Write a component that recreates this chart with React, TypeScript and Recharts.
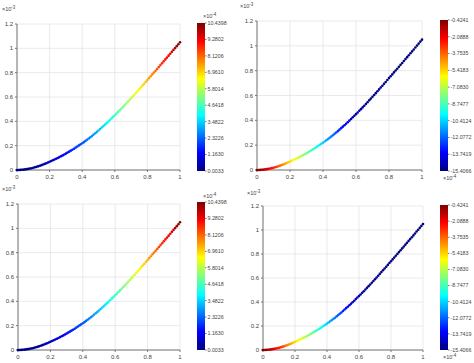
import React from 'react';
import { ScatterChart, Scatter, XAxis, YAxis, CartesianGrid, ReferenceArea } from 'recharts';

const X_TICKS = [0, 0.2, 0.4, 0.6, 0.8, 1];
const Y_TICKS = [0, 0.2, 0.4, 0.6, 0.8, 1, 1.2];

// x positions of the sampled points
const XS = [
  0, 0.01, 0.02, 0.03, 0.04, 0.05, 0.06, 0.07, 0.08, 0.09,
  0.1, 0.11, 0.12, 0.13, 0.14, 0.15, 0.16, 0.17, 0.18, 0.19,
  0.2, 0.21, 0.22, 0.23, 0.24, 0.25, 0.26, 0.27, 0.28, 0.29,
  0.3, 0.31, 0.32, 0.33, 0.34, 0.35, 0.36, 0.37, 0.38, 0.39,
  0.4, 0.41, 0.42, 0.43, 0.44, 0.45, 0.46, 0.47, 0.48, 0.49,
  0.5, 0.51, 0.52, 0.53, 0.54, 0.55, 0.56, 0.57, 0.58, 0.59,
  0.6, 0.61, 0.62, 0.63, 0.64, 0.65, 0.66, 0.67, 0.68, 0.69,
  0.7, 0.71, 0.72, 0.73, 0.74, 0.75, 0.76, 0.77, 0.78, 0.79,
  0.8, 0.81, 0.82, 0.83, 0.84, 0.85, 0.86, 0.87, 0.88, 0.89,
  0.9, 0.91, 0.92, 0.93, 0.94, 0.95, 0.96, 0.97, 0.98, 0.99,
  1,
];

// deflection values (x10^-3)
const YS = [
  0, 0.0003, 0.001, 0.002, 0.003, 0.005, 0.007, 0.009, 0.012, 0.015,
  0.018, 0.022, 0.026, 0.03, 0.035, 0.04, 0.045, 0.05, 0.056, 0.062,
  0.068, 0.074, 0.08, 0.086, 0.093, 0.099, 0.106, 0.113, 0.12, 0.127,
  0.135, 0.143, 0.151, 0.159, 0.167, 0.175, 0.184, 0.193, 0.202, 0.211,
  0.22, 0.229, 0.239, 0.249, 0.259, 0.269, 0.28, 0.291, 0.302, 0.313,
  0.325, 0.337, 0.349, 0.361, 0.373, 0.385, 0.398, 0.411, 0.424, 0.437,
  0.45, 0.463, 0.477, 0.49, 0.504, 0.518, 0.532, 0.546, 0.561, 0.575,
  0.59, 0.604, 0.619, 0.634, 0.649, 0.664, 0.679, 0.694, 0.709, 0.725,
  0.74, 0.755, 0.77, 0.786, 0.801, 0.816, 0.831, 0.847, 0.862, 0.878,
  0.893, 0.909, 0.924, 0.94, 0.955, 0.971, 0.987, 1.002, 1.018, 1.034,
  1.05,
];

// colour values of the left panels (x10^-4)
const C_LEFT = [
  0.0033, 0.005, 0.01, 0.02, 0.03, 0.05, 0.07, 0.09, 0.12, 0.15,
  0.18, 0.22, 0.26, 0.3, 0.35, 0.4, 0.45, 0.5, 0.56, 0.62,
  0.68, 0.74, 0.8, 0.86, 0.92, 0.98, 1.05, 1.12, 1.19, 1.26,
  1.34, 1.42, 1.5, 1.58, 1.66, 1.74, 1.83, 1.92, 2.01, 2.1,
  2.19, 2.28, 2.38, 2.48, 2.57, 2.67, 2.78, 2.89, 3.0, 3.11,
  3.23, 3.35, 3.47, 3.59, 3.71, 3.83, 3.96, 4.09, 4.21, 4.34,
  4.47, 4.6, 4.74, 4.87, 5.01, 5.15, 5.29, 5.43, 5.58, 5.72,
  5.87, 6.01, 6.15, 6.3, 6.45, 6.6, 6.75, 6.9, 7.05, 7.21,
  7.36, 7.5, 7.65, 7.81, 7.96, 8.11, 8.26, 8.42, 8.57, 8.73,
  8.88, 9.04, 9.19, 9.34, 9.49, 9.65, 9.81, 9.96, 10.12, 10.28,
  10.4398,
];

// colour values of the right panels (x10^-4)
const C_RIGHT = [
  -0.4241, -0.6, -0.8, -1.0, -1.2, -1.45, -1.7, -1.95, -2.2, -2.45,
  -2.7, -2.95, -3.2, -3.5, -3.8, -4.1, -4.4, -4.65, -4.9, -5.2,
  -5.5, -5.75, -6.0, -6.25, -6.5, -6.75, -7.0, -7.25, -7.5, -7.75,
  -8.0, -8.25, -8.5, -8.75, -9.0, -9.25, -9.5, -9.75, -10.0, -10.25,
  -10.5, -10.75, -11.0, -11.25, -11.5, -11.75, -12.0, -12.25, -12.5, -12.75,
  -13.0, -13.25, -13.5, -13.7, -13.9, -14.1, -14.3, -14.45, -14.6, -14.7,
  -14.8, -14.9, -15.0, -15.05, -15.1, -15.15, -15.2, -15.22, -15.25, -15.28,
  -15.3, -15.31, -15.32, -15.33, -15.34, -15.35, -15.36, -15.36, -15.37, -15.37,
  -15.38, -15.38, -15.39, -15.39, -15.39, -15.39, -15.4, -15.4, -15.4, -15.4,
  -15.4, -15.4, -15.4, -15.4, -15.4, -15.4, -15.41, -15.41, -15.41, -15.41,
  -15.4066,
];

const CB_TICKS_LEFT = [0.0033, 1.163, 2.3226, 3.4822, 4.6418, 5.8014, 6.961, 8.1206, 9.2802, 10.4398];
const CB_TICKS_RIGHT = [-15.4066, -13.7419, -12.0772, -10.4124, -8.7477, -7.083, -5.4183, -3.7535, -2.0888, -0.4241];

const W = 474;
const H = 363;
const FONT = '"Liberation Sans", Arial, sans-serif';
const TXT = '#444';

const clamp = (v: number) => Math.max(0, Math.min(1, v));
const jet = (t: number) => {
  const r = clamp(1.5 - Math.abs(4 * t - 3));
  const g = clamp(1.5 - Math.abs(4 * t - 2));
  const b = clamp(1.5 - Math.abs(4 * t - 1));
  return `rgb(${Math.round(r * 255)},${Math.round(g * 255)},${Math.round(b * 255)})`;
};

type Box = { l: number; t: number; r: number; b: number };
type Panel = {
  id: string;
  plot: Box;
  cbar: Box;
  colors: number[];
  cbTicks: number[];
  yExp: { x: number; y: number };
  cExp: { x: number; y: number };
};

const PANELS: Panel[] = [
  { id: 'tl', plot: { l: 17, t: 24, r: 180, b: 170 }, cbar: { l: 197, t: 23, r: 205, b: 171 }, colors: C_LEFT, cbTicks: CB_TICKS_LEFT, yExp: { x: 2, y: 6 }, cExp: { x: 203, y: 13 } },
  { id: 'tr', plot: { l: 257, t: 21, r: 422, b: 170 }, cbar: { l: 440, t: 20, r: 448, b: 171 }, colors: C_RIGHT, cbTicks: CB_TICKS_RIGHT, yExp: { x: 240, y: 3 }, cExp: { x: 443, y: 175 } },
  { id: 'bl', plot: { l: 18, t: 204, r: 180, b: 350 }, cbar: { l: 197, t: 202, r: 205, b: 350 }, colors: C_LEFT, cbTicks: CB_TICKS_LEFT, yExp: { x: 2, y: 186 }, cExp: { x: 203, y: 193 } },
  { id: 'br', plot: { l: 263, t: 206, r: 423, b: 350 }, cbar: { l: 440, t: 205, r: 448, b: 350 }, colors: C_RIGHT, cbTicks: CB_TICKS_RIGHT, yExp: { x: 247, y: 190 }, cExp: { x: 443, y: 354 } },
];

const tickStyle = { fontSize: 6, fill: TXT, fontFamily: FONT };

const Exp = ({ x, y, p }: { x: number; y: number; p: string }) => (
  <div style={{ position: 'absolute', left: x, top: y, fontFamily: FONT, fontSize: 5.5, color: TXT, lineHeight: '7px', whiteSpace: 'nowrap' }}>
    ×10<sup style={{ fontSize: 4.5, verticalAlign: 'top', position: 'relative', top: -2 }}>{p}</sup>
  </div>
);

const PanelChart = ({ p }: { p: Panel }) => {
  const data = XS.map((x, i) => ({ x, y: YS[i], c: p.colors[i] }));
  const cmin = p.cbTicks[0];
  const cmax = p.cbTicks[p.cbTicks.length - 1];
  const cbData = [
    { x: 0, y: cmin },
    { x: 1, y: cmax },
  ];
  const yAxisW = 20;
  const xAxisH = 20;
  const shape = (props: any) => {
    const t = (props.payload.c - cmin) / (cmax - cmin);
    return <circle cx={props.cx} cy={props.cy} r={1.3} fill={jet(t)} />;
  };
  const stops = Array.from({ length: 17 }, (_, i) => i / 16);
  const gid = `grad-${p.id}`;
  const cbAxisW = 30;
  return (
    <>
      <div style={{ position: 'absolute', left: 0, top: 0 }}>
        <ScatterChart
          width={W}
          height={H}
          margin={{ top: p.plot.t, right: W - p.plot.r, bottom: H - p.plot.b - xAxisH, left: p.plot.l - yAxisW }}
        >
          <CartesianGrid stroke="#e4e4e4" strokeWidth={0.8} />
          <XAxis
            type="number"
            dataKey="x"
            domain={[0, 1]}
            ticks={X_TICKS}
            height={xAxisH}
            tick={tickStyle}
            tickSize={2}
            tickMargin={3}
            stroke="#777"
            interval={0}
          />
          <YAxis
            type="number"
            dataKey="y"
            domain={[0, 1.2]}
            ticks={Y_TICKS}
            width={yAxisW}
            tick={tickStyle}
            tickSize={2}
            tickMargin={2}
            stroke="#777"
            interval={0}
          />
          <Scatter data={data} shape={shape} isAnimationActive={false} />
        </ScatterChart>
      </div>
      <div style={{ position: 'absolute', left: 0, top: 0 }}>
        <ScatterChart
          width={W}
          height={H}
          margin={{ top: p.cbar.t, right: W - p.cbar.r - cbAxisW, bottom: H - p.cbar.b, left: p.cbar.l }}
        >
          <defs>
            <linearGradient id={gid} x1="0" y1="1" x2="0" y2="0">
              {stops.map((s) => (
                <stop key={s} offset={`${s * 100}%`} stopColor={jet(s)} />
              ))}
            </linearGradient>
          </defs>
          <XAxis type="number" dataKey="x" domain={[0, 1]} height={0} tick={false} axisLine={false} tickLine={false} />
          <YAxis
            type="number"
            dataKey="y"
            orientation="right"
            domain={[cmin, cmax]}
            ticks={p.cbTicks}
            width={cbAxisW}
            tick={{ ...tickStyle, fontSize: 5.3 }}
            tickFormatter={(v: number) => v.toFixed(4)}
            tickSize={1.5}
            tickMargin={1}
            axisLine={false}
            tickLine={{ stroke: '#777' }}
            interval={0}
          />
          <ReferenceArea x1={0} x2={1} y1={cmin} y2={cmax} fill={`url(#${gid})`} fillOpacity={1} stroke="none" />
          <Scatter data={cbData} shape={() => <g />} isAnimationActive={false} />
        </ScatterChart>
      </div>
      <Exp x={p.yExp.x} y={p.yExp.y} p="-3" />
      <Exp x={p.cExp.x} y={p.cExp.y} p="-4" />
    </>
  );
};

export default function App() {
  return (
    <div style={{ position: 'absolute', left: 0, top: 0, width: W, height: H, background: '#fff', overflow: 'hidden' }}>
      {PANELS.map((p) => (
        <PanelChart key={p.id} p={p} />
      ))}
    </div>
  );
}
